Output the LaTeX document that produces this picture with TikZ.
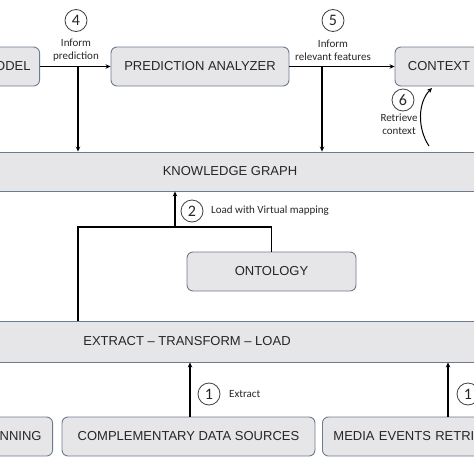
\documentclass[tikz,border=0pt]{standalone}
\usepackage{fontspec}
\setmainfont{Liberation Sans}
\newfontfamily\lab{Carlito}
\usetikzlibrary{arrows.meta}
\definecolor{boxfill}{HTML}{E6E6E8}
\definecolor{boxline}{HTML}{6E7B8E}
\begin{document}
\begin{tikzpicture}[x=1pt,y=-1pt,
  box/.style={draw=boxline, fill=boxfill, rounded corners=6pt, line width=0.9pt,
    minimum height=39pt, inner sep=0pt, font=\fontsize{13}{15}\selectfont, text=black!85},
  band/.style={box, rounded corners=0pt},
  num/.style={circle, draw=black!75, line width=0.8pt, minimum size=22pt, inner sep=0pt,
    font=\lab\fontsize{16}{16}\selectfont, text=black!85},
  lbl/.style={font=\lab\fontsize{11}{13}\selectfont, align=center, text=black!85, inner sep=0pt},
  conn/.style={line width=1.1pt, black},
  arr/.style={conn, -{Stealth[length=5pt,width=4.5pt]}}]
\useasboundingbox (0,0) rectangle (474,474);
\clip (0,0) rectangle (474,474);
% boxes
\node[box, anchor=east, text width=40pt, align=right, inner xsep=9pt] (model) at (40,66.5) {ODEL};
\node[box, minimum width=178pt] (pa) at (200,66.5) {PREDICTION ANALYZER};
\node[box, minimum width=88pt] (ctx) at (439,66.5) {CONTEXT};
\node[band, minimum width=540pt] (kg) at (230,171.5) {KNOWLEDGE GRAPH};
\node[box, minimum width=169pt] (ont) at (271.5,271.5) {ONTOLOGY};
\node[band, minimum width=620pt, minimum height=41pt] (etl) at (187,341.5) {EXTRACT \textendash{} TRANSFORM \textendash{} LOAD};
\node[box, anchor=east, text width=42pt, align=right, inner xsep=11pt] (plan) at (53,436.5) {NNING};
\node[box, minimum width=253pt] (cds) at (188.5,436.5) {COMPLEMENTARY DATA SOURCES};
\node[box, anchor=west, text width=180pt, align=left, inner xsep=11pt] (media) at (322,436.5) {MEDIA EVENTS RETRI};
% connectors
\draw[arr] (model.east) -- (pa.west);
\coordinate (j4) at (78,66.5);
\draw[arr] (j4) -- (j4 |- kg.north);
\draw[arr] (pa.east) -- (ctx.west);
\coordinate (j5) at (322,66.5);
\draw[arr] (j5) -- (j5 |- kg.north);
\coordinate (j2) at (175,227);
\coordinate (e2) at (78,227);
\draw[conn] (e2 |- etl.north) -- (e2) -- (ont.north |- e2) -- (ont.north);
\draw[arr] (j2) -- (j2 |- kg.south);
\coordinate (c1) at (190,400);
\draw[arr] (c1 |- cds.north) -- (c1 |- etl.south);
\coordinate (m1) at (448,400);
\draw[arr] (m1 |- media.north) -- (m1 |- etl.south);
\coordinate (r6s) at (429,146);
\coordinate (r6e) at (432,88);
\draw[arr, line width=1pt] (r6s) .. controls (417,128) and (418,102) .. (r6e);
% numbers and labels
\node[num] (n4) at (76,20.5) {4};
\node[lbl] (l4) at (76,50.5) {Inform\\prediction};
\node[num] (n5) at (333,20.5) {5};
\node[lbl] (l5) at (333,50.5) {Inform\\relevant features};
\node[num] (n6) at (403,100) {6};
\node[lbl] (l6) at (399,124.5) {Retrieve\\context};
\node[num] (n2) at (192,211) {2};
\node[lbl, anchor=west] (l2) at (211,211) {Load with Virtual mapping};
\node[num] (n1) at (209,394) {1};
\node[lbl, anchor=west] (l1) at (229,394) {Extract};
\node[num] (n1b) at (468,394) {1};
\end{tikzpicture}
\end{document}
